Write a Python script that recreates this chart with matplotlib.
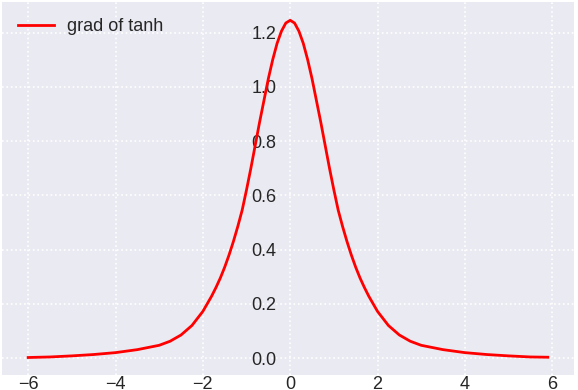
import matplotlib
matplotlib.use("Agg")
import matplotlib.pyplot as plt

x_vals = [-6.0, -5.5, -5.0, -4.5, -4.0, -3.5, -3.0, -2.75, -2.5, -2.25, -2.0,
          -1.9, -1.8, -1.7, -1.6, -1.5, -1.4, -1.3, -1.2, -1.1, -1.0,
          -0.9, -0.8, -0.7, -0.6, -0.5, -0.4, -0.3, -0.2, -0.1, 0.0,
          0.1, 0.2, 0.3, 0.4, 0.5, 0.6, 0.7, 0.8, 0.9, 1.0,
          1.1, 1.2, 1.3, 1.4, 1.5, 1.6, 1.7, 1.8, 1.9, 2.0,
          2.25, 2.5, 2.75, 3.0, 3.5, 4.0, 4.5, 5.0, 5.5, 5.9]
grad_vals = [0.002, 0.004, 0.008, 0.013, 0.020, 0.031, 0.047, 0.062, 0.085, 0.120, 0.172,
             0.200, 0.228, 0.260, 0.295, 0.335, 0.380, 0.430, 0.485, 0.545, 0.620,
             0.700, 0.785, 0.870, 0.950, 1.030, 1.100, 1.160, 1.205, 1.235, 1.245,
             1.235, 1.205, 1.160, 1.100, 1.030, 0.950, 0.870, 0.785, 0.700, 0.620,
             0.545, 0.485, 0.430, 0.380, 0.335, 0.295, 0.260, 0.228, 0.200, 0.172,
             0.120, 0.085, 0.062, 0.047, 0.031, 0.020, 0.013, 0.008, 0.004, 0.003]
x_ticks = [-6, -4, -2, 0, 2, 4, 6]
y_ticks = [0.0, 0.2, 0.4, 0.6, 0.8, 1.0, 1.2]
label = "grad of tanh"

plt.rcParams['font.family'] = ['Liberation Sans', 'DejaVu Sans']
fig = plt.figure(figsize=(5.78, 3.9), dpi=100)
ax = fig.add_axes([2/578, 15/390, 572/578, 373/390])
ax.set_facecolor('#EAEAF2')
ax.plot(x_vals, grad_vals, color='red', lw=2, label=label, solid_joinstyle='round')
ax.set_xlim(-6.6, 6.5)
ax.set_ylim(-0.0625, 1.3125)
ax.set_xticks(x_ticks)
ax.set_yticks(y_ticks)
ax.set_xticklabels(["\u2212" + str(abs(t)) if t < 0 else str(t) for t in x_ticks])
ax.set_yticklabels([f"{t:.1f}" for t in y_ticks])
for s in ['top', 'right', 'bottom']:
    ax.spines[s].set_visible(False)
ax.spines['left'].set_position(('data', 0))
ax.spines['left'].set_visible(False)
ax.grid(True, color='white', linestyle=':', linewidth=1.2)
ax.set_axisbelow(True)
ax.tick_params(axis='both', length=0, labelsize=13, colors='#262626')
ax.tick_params(axis='y', pad=10)
ax.tick_params(axis='x', pad=0.5)
leg = ax.legend(loc='upper left', frameon=False, fontsize=13, handlelength=2.0,
                handletextpad=0.7, borderaxespad=0.5)
for t in leg.get_texts():
    t.set_color('#262626')
fig.savefig('out.png', dpi=100)
